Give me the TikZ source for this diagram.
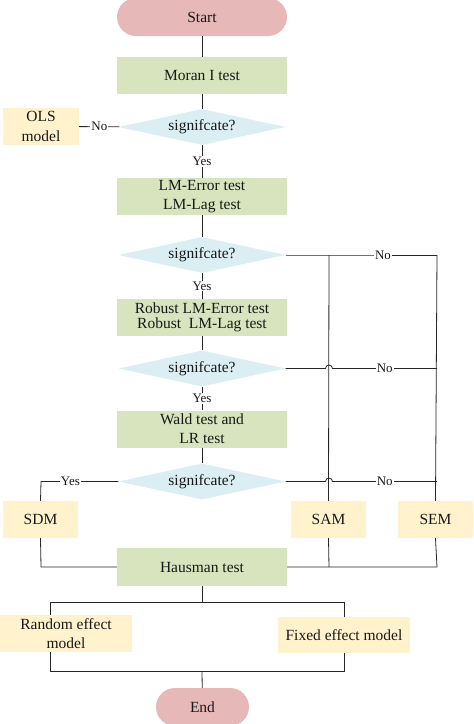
\documentclass[tikz,border=0pt]{standalone}
\usepackage{fontspec}
\setmainfont{Liberation Serif}
\usetikzlibrary{shapes.geometric}
\definecolor{pinkc}{HTML}{E6B9B8}
\definecolor{greenc}{HTML}{D7E4BD}
\definecolor{bluec}{HTML}{DAEEF3}
\definecolor{beigec}{HTML}{FFF2CC}
\definecolor{linec}{HTML}{262626}
\tikzset{
  base/.style={inner sep=0pt, align=center, font=\fontsize{15.5}{19.3}\selectfont, text=black!90},
  term/.style={base, fill=pinkc, rounded corners=19pt, minimum height=38pt},
  testbox/.style={base, fill=greenc, minimum width=170pt, minimum height=37pt},
  decide/.style={base, shape=diamond, fill=bluec, aspect=4.6, minimum width=167pt, minimum height=36pt},
  modelbox/.style={base, fill=beigec, minimum height=37pt},
  conn/.style={draw=linec, line width=0.8pt},
  lab/.style={fill=white, inner sep=1pt, font=\fontsize{13}{14}\selectfont, text=black!90}
}
\begin{document}
\begin{tikzpicture}[x=1pt,y=-1pt]
\useasboundingbox (0,0) rectangle (474,724);
\node[term, minimum width=170pt] (start) at (202,17) {Start};
\node[testbox] (moran) at (202,75.5) {Moran I test};
\node[decide] (d1) at (202,127) {signifcate?};
\node[modelbox, minimum width=76pt] (ols) at (41,126.5) {OLS\\model};
\node[testbox] (lm) at (202,196.5) {LM-Error test\\LM-Lag test};
\node[decide] (d2) at (202,255) {signifcate?};
\node[testbox, font=\fontsize{15.5}{14.5}\selectfont] (rob) at (202,317.5) {Robust LM-Error test\\Robust\ \ LM-Lag test};
\node[decide] (d3) at (202,368.5) {signifcate?};
\node[testbox] (wald) at (202,429) {Wald test and\\LR test};
\node[decide] (d4) at (202,481.5) {signifcate?};
\node[modelbox, minimum width=75pt] (sdm) at (40.5,519.5) {SDM};
\node[modelbox, minimum width=75pt] (sam) at (328.5,519.5) {SAM};
\node[modelbox, minimum width=75pt] (sem) at (435.5,519.5) {SEM};
\node[testbox, minimum height=38pt] (haus) at (202,567) {Hausman test};
\node[modelbox, minimum width=132pt] (rand) at (66,633.5) {Random effect\\model};
\node[modelbox, minimum width=132pt, minimum height=36pt] (fix) at (344,635) {Fixed effect model};
\node[term, minimum width=93pt] (end) at (202.5,707) {End};

% coordinates
\coordinate (v2) at (329,255);
\coordinate (r2) at (437,255);
\coordinate (r3) at (437,368.5);
\coordinate (r4) at (437,481.5);
\coordinate (l4) at (41,481.5);
\coordinate (hl) at (41,567);
\coordinate (hr) at (437,567);
\coordinate (hm) at (329,567);
\coordinate (sp) at (202,602);
\coordinate (spl) at (50,602);
\coordinate (spr) at (344,602);
\coordinate (jn) at (202,671);
\coordinate (jnl) at (50,671);
\coordinate (jnr) at (344,671);

\draw[conn] (start) -- (moran);
\draw[conn] (moran) -- (d1);
\draw[conn] (d1) -- node[lab]{Yes} (lm);
\draw[conn] (d1) -- node[lab]{No} (ols);
\draw[conn] (lm) -- (d2);
\draw[conn] (d2) -- node[lab]{Yes} (rob);
\draw[conn] (rob) -- (d3);
\draw[conn] (d3) -- node[lab]{Yes} (wald);
\draw[conn] (wald) -- (d4);
% right No branches
\draw[conn] (d2.east) -- (v2) -- node[lab]{No} (r2);
\draw[conn] (v2) -- (sam.north);
\draw[conn] (r2) -- (sem.north);
\draw[conn] (d3.east) -- ([xshift=-3.5pt]v2 |- d3.east) arc[start angle=180, end angle=0, radius=3.5pt] -- node[lab]{No} (r3);
\draw[conn] (d4.east) -- ([xshift=-3.5pt]v2 |- d4.east) arc[start angle=180, end angle=0, radius=3.5pt] -- node[lab]{No} (r4);
% left Yes branch
\draw[conn] (d4.west) -- node[lab, pos=0.62]{Yes} (l4) -- (sdm.north);
% to Hausman
\draw[conn] (sdm.south) -- (hl) -- (haus.west);
\draw[conn] (sem.south) -- (hr) -- (haus.east);
\draw[conn] (sam.south) -- (hm);
% Hausman split
\draw[conn] (haus.south) -- (sp);
\draw[conn] (spl) -- (spr);
\draw[conn] (spl) -- (spl |- rand.north);
\draw[conn] (spr) -- (fix.north);
\draw[conn] (spl |- rand.south) -- (jnl) -- (jnr) -- (fix.south);
\draw[conn] (jn) -- (end);
\end{tikzpicture}
\end{document}
